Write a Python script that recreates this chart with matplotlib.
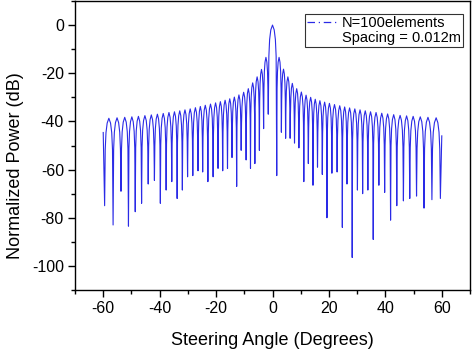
import matplotlib

matplotlib.use("Agg")
import matplotlib.pyplot as plt
from matplotlib.lines import Line2D
from matplotlib.ticker import MultipleLocator

plt.rcParams["font.family"] = ["Liberation Sans", "DejaVu Sans"]
plt.rcParams["axes.unicode_minus"] = False

# values
start_deg, start_db = -60.0, -44.6
end_deg, end_db = 60.0, -46.0

null_deg_left = [-59.5, -56.5, -53.7, -51.05, -48.65, -46.4, -44.05, -41.85, -39.75, -37.7,
                 -35.7, -33.8, -31.95, -30.1, -28.25, -26.4, -24.75, -22.9, -21.05, -19.3,
                 -17.65, -15.95, -14.35, -12.7, -11.1, -9.35, -7.8, -6.25, -4.65, -3.15, -1.5]
null_db_left = [-75, -83, -69, -83.5, -77.5, -74, -66, -64.5, -74, -68.5,
                -65, -72, -68.5, -63, -62.5, -60.5, -61, -65, -63, -59.5,
                -60.5, -59.5, -55, -67, -52, -56, -59.5, -57.5, -52, -43, -37]

null_deg_right = [1.5, 3.15, 4.65, 6.25, 7.8, 9.35, 11.1, 12.7, 14.35, 15.95,
                  17.65, 19.3, 21.05, 22.9, 24.75, 26.4, 28.25, 30.1, 31.95, 33.8,
                  35.7, 37.7, 39.75, 41.85, 44.05, 46.4, 48.65, 51.05, 53.7, 56.5, 59.5]
null_db_right = [-62.5, -44.5, -47, -47, -49, -51, -65, -57.5, -66.5, -59,
                 -62, -80, -61.5, -61, -84, -66, -96.5, -68.5, -70, -68.5,
                 -89, -66.5, -69.5, -81, -75, -73, -72, -71, -76, -72.5, -72]

# lobe peaks, outer left -> main lobe -> outer right
peak_db_left = [-38.7, -38.5, -38.3, -38.1, -37.9, -37.6, -37.3, -37.0, -36.7, -36.3,
                -36.0, -35.6, -35.2, -34.8, -34.3, -33.8, -33.3, -32.8, -32.3, -31.8,
                -31.2, -30.6, -29.9, -29.0, -27.9, -26.4, -24.0, -21.5, -18.4, -13.4]
main_lobe_db = 0.0
peak_db_right = [-13.4, -18.3, -21.5, -24.2, -26.4, -27.8, -29.1, -30.0, -30.8, -31.4,
                 -32.0, -32.5, -33.0, -33.5, -34.0, -34.4, -34.8, -35.2, -35.6, -36.0,
                 -36.3, -36.6, -36.9, -37.2, -37.5, -37.7, -37.9, -38.1, -38.3, -38.5]

x_ticks = [-60, -40, -20, 0, 20, 40, 60]
y_ticks = [0, -20, -40, -60, -80, -100]

LINE_COLOR = "#2a2ae6"
# rough shape of one lobe between two nulls: (fraction of width, dB below peak)
LOBE_SHAPE = [(0.07, -13), (0.16, -6), (0.3, -2), (0.5, 0), (0.7, -2), (0.84, -6), (0.93, -13)]


def build_pattern():
    nulls = null_deg_left + null_deg_right
    depths = null_db_left + null_db_right
    peaks = peak_db_left + [main_lobe_db] + peak_db_right
    xs, ys = [start_deg], [start_db]
    for i, (n, d) in enumerate(zip(nulls, depths)):
        xs.append(n)
        ys.append(d)
        if i < len(peaks):
            width = nulls[i + 1] - n
            for frac, rel in LOBE_SHAPE:
                xs.append(n + frac * width)
                ys.append(peaks[i] + rel)
    xs.append(end_deg)
    ys.append(end_db)
    return xs, ys


def main():
    fig = plt.figure(figsize=(4.74, 3.51), dpi=100)
    ax = fig.add_axes([75 / 474, 61 / 351, 395 / 474, 289 / 351])

    xs, ys = build_pattern()
    ax.plot(xs, ys, color=LINE_COLOR, lw=0.8)

    ax.set_xlim(-70, 70)
    ax.set_ylim(-110, 10)
    ax.set_xticks(x_ticks)
    ax.set_yticks(y_ticks)
    ax.xaxis.set_minor_locator(MultipleLocator(10))
    ax.yaxis.set_minor_locator(MultipleLocator(10))
    ax.tick_params(which="major", direction="out", length=5, width=1, labelsize=11.5, pad=3)
    ax.tick_params(which="minor", direction="out", length=3, width=1)
    for side in ["left", "bottom", "right", "top"]:
        ax.spines[side].set_linewidth(1.0)

    ax.set_xlabel("Steering Angle (Degrees)", fontsize=13)
    ax.xaxis.set_label_coords(0.5, -0.145)
    ax.set_ylabel("Normalized Power (dB)", fontsize=13)
    ax.yaxis.set_label_coords(-0.13, 0.43)

    handles = [
        Line2D([], [], color=LINE_COLOR, lw=0.9, linestyle=(0, (6, 3, 1, 3))),
        Line2D([], [], color="none"),
    ]
    leg = ax.legend(handles, ["N=100elements", "Spacing = 0.012m"], loc="upper right",
                    bbox_to_anchor=(0.982, 0.955), fontsize=10.5, frameon=True, fancybox=False,
                    handlelength=2.0, handletextpad=0.4, borderpad=0.15, labelspacing=0.05,
                    borderaxespad=0)
    leg.get_frame().set_edgecolor("black")
    leg.get_frame().set_linewidth(0.8)

    fig.savefig("out.png", dpi=100)
    plt.close(fig)


if __name__ == "__main__":
    main()
